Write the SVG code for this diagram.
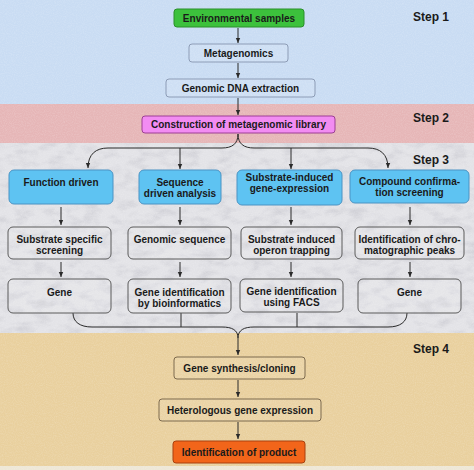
<svg xmlns="http://www.w3.org/2000/svg" width="474" height="470" viewBox="0 0 474 470">
<style>
text{font-family:"Liberation Sans",Arial,sans-serif;font-weight:bold;font-size:10px;fill:#1a1a1a;text-anchor:middle}
.step{font-size:12px;text-anchor:start}
.conn path{fill:none;stroke:#2a2a2a;stroke-width:1}
.arr{marker-end:url(#ah)}
.g{fill:#ffffff;fill-opacity:0.08;stroke:#5a5a5a;stroke-width:1}
.b1{fill:#ffffff;fill-opacity:0.1;stroke:#8d9cb6;stroke-width:1}
.t4{fill:#ffffff;fill-opacity:0.08;stroke:#7d6a4e;stroke-width:1}
.blue{fill:#5ec3f2;stroke:#4a93c4;stroke-width:1}
</style>
<defs>
<marker id="ah" markerUnits="userSpaceOnUse" markerWidth="6" markerHeight="6" refX="5" refY="3" orient="auto">
<path d="M0,0.8 L5,3 L0,5.2 Z" fill="#2a2a2a"/>
</marker>
<filter id="noise" x="0" y="0" width="100%" height="100%">
<feTurbulence type="fractalNoise" baseFrequency="0.9" numOctaves="2" seed="3" result="n"/>
<feColorMatrix in="n" type="matrix" values="0 0 0 0 1  0 0 0 0 1  0 0 0 0 1  0 0 0 -1.2 0.75"/>
</filter>
<filter id="marble" x="0" y="0" width="100%" height="100%">
<feTurbulence type="fractalNoise" baseFrequency="0.06 0.12" numOctaves="4" seed="7" result="n"/>
<feColorMatrix in="n" type="matrix" values="0 0 0 0 0.55  0 0 0 0 0.55  0 0 0 0 0.6  0 0 0 -2.2 1.25"/>
</filter>
</defs>
<g id="background">
<rect x="0" y="0" width="474" height="104" fill="#c9dcf3"/>
<rect x="0" y="104" width="474" height="39" fill="#e6b6b7"/>
<rect x="0" y="143" width="474" height="190" fill="#e3e3e7"/>
<rect x="0" y="143" width="474" height="190" filter="url(#marble)" opacity="0.55"/>
<rect x="0" y="333" width="474" height="133" fill="#e9d09e"/>
<rect x="0" y="466" width="474" height="4" fill="#eee7d6"/>
<rect x="0" y="0" width="474" height="470" filter="url(#noise)" opacity="0.25"/>
</g>
<g id="steps">
<text class="step" x="413" y="21">Step 1</text>
<text class="step" x="413" y="122">Step 2</text>
<text class="step" x="413" y="164">Step 3</text>
<text class="step" x="413" y="353">Step 4</text>
</g>
<g class="conn" id="connectors">
<path class="arr" d="M238,28 L238,43"/>
<path class="arr" d="M238,63 L238,78"/>
<path class="arr" d="M238,98 L238,115"/>
<path class="arr" d="M238,134 C238,144 232,148 222,148 L108,148 C96,148 88,154 88,168"/>
<path class="arr" d="M238,134 C238,144 244,148 254,148 L368,148 C380,148 388,154 388,168"/>
<path class="arr" d="M180,148 L180,169"/>
<path class="arr" d="M291,148 L291,169"/>
<path class="arr" d="M61,207 L61,225"/>
<path class="arr" d="M180,207 L180,225"/>
<path class="arr" d="M291,207 L291,225"/>
<path class="arr" d="M410,207 L410,225"/>
<path class="arr" d="M61,262 L61,277"/>
<path class="arr" d="M180,262 L180,277"/>
<path class="arr" d="M291,262 L291,277"/>
<path class="arr" d="M410,262 L410,277"/>
<path d="M73,313 C73,322 80,327 92,327 L222,327 C232,327 238,330 238,338"/>
<path d="M407,313 C407,322 400,327 388,327 L254,327 C244,327 238,330 238,338"/>
<path d="M181,313 L181,327"/>
<path d="M297,313 L297,327"/>
<path class="arr" d="M238,338 L238,355"/>
<path class="arr" d="M238,380 L238,397"/>
<path class="arr" d="M238,422 L238,439"/>
</g>
<g id="n-env">
<rect x="174" y="9" width="130" height="18" rx="3" fill="#3cc13c" stroke="#2a8f2a"/>
<text x="239" y="21.5">Environmental samples</text>
</g>
<g id="n-meta">
<rect class="b1" x="189" y="44" width="99" height="18" rx="3"/>
<text x="238.5" y="56.5">Metagenomics</text>
</g>
<g id="n-dna">
<rect class="b1" x="166" y="79" width="149" height="18" rx="3"/>
<text x="240.5" y="91.5">Genomic DNA extraction</text>
</g>
<g id="n-lib">
<rect x="142" y="116" width="193" height="17" rx="3" fill="#f28cf2" stroke="#9c3f94"/>
<text x="238.5" y="128">Construction of metagenomic library</text>
</g>
<g id="n-func">
<rect class="blue" x="9" y="170" width="104" height="34" rx="5"/>
<text x="61" y="186">Function driven</text>
</g>
<g id="n-seq">
<rect class="blue" x="139" y="170" width="82" height="34" rx="5"/>
<text x="180" y="186">Sequence</text>
<text x="180" y="197">driven analysis</text>
</g>
<g id="n-sub">
<rect class="blue" x="237" y="170" width="105" height="35" rx="5"/>
<text x="289.5" y="181">Substrate-induced</text>
<text x="289.5" y="192">gene-expression</text>
</g>
<g id="n-comp">
<rect class="blue" x="350" y="170" width="119" height="33" rx="5"/>
<text x="409.5" y="185">Compound confirma-</text>
<text x="409.5" y="196">tion screening</text>
</g>
<g id="n-ssc">
<rect class="g" x="8" y="227" width="103" height="32" rx="5"/>
<text x="59.5" y="243">Substrate specific</text>
<text x="59.5" y="254">screening</text>
</g>
<g id="n-gseq">
<rect class="g" x="128" y="227" width="103" height="32" rx="5"/>
<text x="179.5" y="243">Genomic sequence</text>
</g>
<g id="n-sio">
<rect class="g" x="241" y="227" width="101" height="32" rx="5"/>
<text x="291.5" y="243">Substrate induced</text>
<text x="291.5" y="254">operon trapping</text>
</g>
<g id="n-chro">
<rect class="g" x="355" y="227" width="109" height="32" rx="5"/>
<text x="409.5" y="243">Identification of chro-</text>
<text x="409.5" y="254">matographic peaks</text>
</g>
<g id="n-gene1">
<rect class="g" x="8" y="279" width="103" height="34" rx="5"/>
<text x="59.5" y="296">Gene</text>
</g>
<g id="n-bio">
<rect class="g" x="128" y="279" width="103" height="34" rx="5"/>
<text x="179.5" y="296">Gene identification</text>
<text x="179.5" y="307">by bioinformatics</text>
</g>
<g id="n-facs">
<rect class="g" x="240" y="279" width="103" height="33" rx="5"/>
<text x="291.5" y="295">Gene identification</text>
<text x="291.5" y="306">using FACS</text>
</g>
<g id="n-gene2">
<rect class="g" x="358" y="279" width="103" height="34" rx="5"/>
<text x="409.5" y="296">Gene</text>
</g>
<g id="n-synth">
<rect class="t4" x="174" y="357" width="131" height="22" rx="3"/>
<text x="239.5" y="371.5">Gene synthesis/cloning</text>
</g>
<g id="n-het">
<rect class="t4" x="159" y="399" width="162" height="22" rx="3"/>
<text x="240" y="413.5">Heterologous gene expression</text>
</g>
<g id="n-prod">
<rect x="173" y="441" width="132" height="22" rx="3" fill="#f2651a" stroke="#a9410e"/>
<text x="239" y="455.5">Identification of product</text>
</g>
</svg>
